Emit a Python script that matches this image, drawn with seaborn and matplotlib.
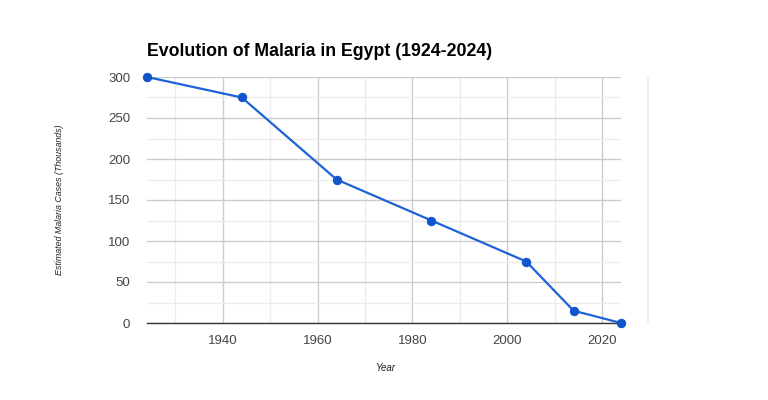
import matplotlib.pyplot as plt
import matplotlib.lines as mlines
import numpy as np
import pandas as pd
import seaborn as sns

years = [1924, 1944, 1964, 1984, 2004, 2014, 2024]
cases = [300, 275, 175, 125, 75, 15, 0]
x_ticks = [1940, 1960, 1980, 2000, 2020]
y_ticks = [0, 50, 100, 150, 200, 250, 300]

df = pd.DataFrame({"Year": years, "Cases": cases})

sns.set_style("white")
plt.rcParams["font.family"] = ["Liberation Sans", "DejaVu Sans"]

fig = plt.figure(figsize=(7.68, 4), dpi=100)
ax = fig.add_axes([0.1914, 0.1925, 0.6172, 0.615])

sns.lineplot(data=df, x="Year", y="Cases", ax=ax, color="#1c62d8",
             linewidth=1.6, marker="o", markersize=6,
             markerfacecolor="#1155cc", markeredgecolor="#1155cc", zorder=5,
             clip_on=False)

ax.set_xlim(1924, 2024)
ax.set_ylim(0, 300)
ax.set_xticks(x_ticks)
ax.set_yticks(y_ticks)
ax.set_xticks(np.arange(1930, 2024, 10), minor=True)
ax.set_yticks(np.arange(25, 300, 50), minor=True)

ax.grid(True, which="major", color="#cccccc", linewidth=1, zorder=0)
ax.grid(True, which="minor", color="#ececec", linewidth=1, zorder=0)
ax.set_axisbelow(True)

for s in ["top", "right", "left"]:
    ax.spines[s].set_visible(False)
ax.spines["bottom"].set_color("#333333")
ax.spines["bottom"].set_linewidth(1)

ax.tick_params(which="both", length=0)
ax.tick_params(axis="x", pad=9, labelsize=9.5, labelcolor="#444444")
ax.tick_params(axis="y", pad=12, labelsize=9.5, labelcolor="#444444")

ax.set_xlabel("")
ax.set_ylabel("")
fig.text(0.502, 0.08, "Year", ha="center", va="center", fontsize=7,
         style="italic", color="#222222")
fig.text(0.078, 0.5, "Estimated Malaria Cases (Thousands)", ha="center",
         va="center", rotation=90, fontsize=6.4, style="italic",
         color="#222222")

fig.text(0.1914, 0.872, "Evolution of Malaria in Egypt (1924-2024)",
         ha="left", va="center", fontsize=12.8, fontweight="bold",
         color="#000000")

# light separator line at right of chart area
fig.add_artist(mlines.Line2D([648 / 768, 648 / 768], [1 - 77 / 400, 1 - 323 / 400],
                             color="#eeeeee", linewidth=1.2))

fig.savefig("out.png", dpi=100)
